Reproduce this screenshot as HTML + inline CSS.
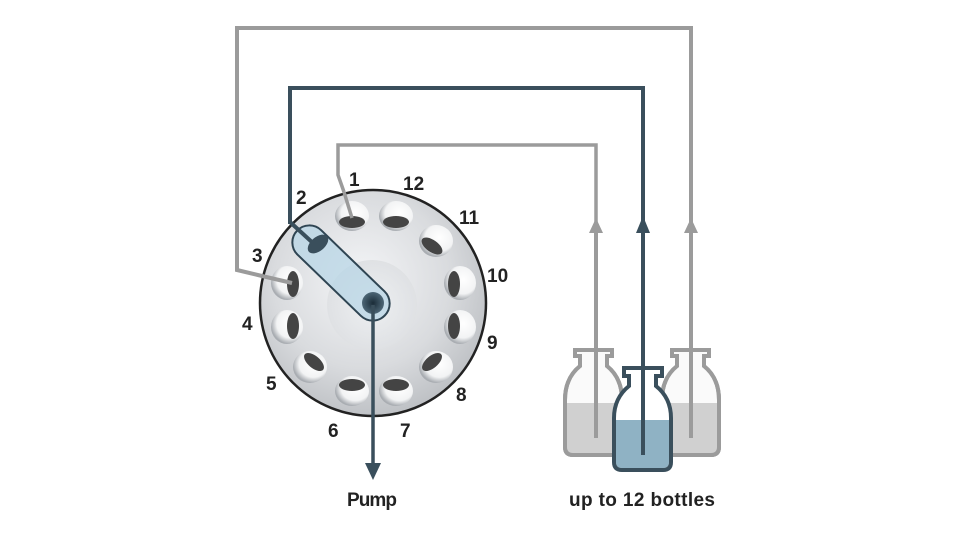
<!DOCTYPE html>
<html><head><meta charset="utf-8"><style>
html,body{margin:0;padding:0;background:#fff;width:960px;height:540px;overflow:hidden}
text{font-family:"Liberation Sans",sans-serif;font-weight:bold;fill:#222}
</style></head><body>
<svg width="960" height="540" viewBox="0 0 960 540" xmlns="http://www.w3.org/2000/svg">
<defs>
<radialGradient id="disk" cx="0.45" cy="0.4" r="0.65">
<stop offset="0" stop-color="#f4f5f7"/><stop offset="0.6" stop-color="#d9dbde"/><stop offset="1" stop-color="#b9bcc0"/>
</radialGradient>
<radialGradient id="hole" cx="0.6" cy="0.4" r="0.6">
<stop offset="0" stop-color="#ffffff"/><stop offset="0.7" stop-color="#f2f3f4"/><stop offset="1" stop-color="#a9adb2"/>
</radialGradient>
<radialGradient id="ctr" cx="0.5" cy="0.5" r="0.5">
<stop offset="0" stop-color="#eef0f2"/><stop offset="1" stop-color="#dfe1e4"/>
</radialGradient>
<radialGradient id="dot" cx="0.5" cy="0.5" r="0.5">
<stop offset="0" stop-color="#1a2c38"/><stop offset="1" stop-color="#4d6676"/>
</radialGradient>
</defs>
<g fill="none">
<path d="M691,232 V28 H237 V270 L262,276" stroke="#9b9b9b" stroke-width="4"/>
<path d="M596,232 V145 H338 V175 L344,192" stroke="#9b9b9b" stroke-width="3.5"/>
</g>
<!-- bottles gray -->
<g stroke="#9b9b9b" stroke-width="4" fill="#fafafa">
<path d="M575,350 H612 V356 H607 V366 Q622,378 622,400 V447 Q622,455 614,455 H573 Q565,455 565,447 V400 Q565,378 580,366 V356 H575 Z"/>
<path d="M672,350 H709 V356 H704 V366 Q719,378 719,400 V447 Q719,455 711,455 H670 Q662,455 662,447 V400 Q662,378 677,366 V356 H672 Z"/>
</g>
<rect x="567" y="403" width="53" height="50" fill="#d0d0d0"/>
<rect x="664" y="403" width="53" height="50" fill="#d0d0d0"/>
<g stroke="#9b9b9b" stroke-width="4" fill="none">
<path d="M575,350 H612 V356 H607 V366 Q622,378 622,400 V447 Q622,455 614,455 H573 Q565,455 565,447 V400 Q565,378 580,366 V356 H575 Z"/>
<path d="M672,350 H709 V356 H704 V366 Q719,378 719,400 V447 Q719,455 711,455 H670 Q662,455 662,447 V400 Q662,378 677,366 V356 H672 Z"/>
<line x1="596" y1="230" x2="596" y2="438"/>
<line x1="691" y1="230" x2="691" y2="438"/>
</g>
<path d="M624,368 H662 V376 H656 V386 Q671,398 671,418 V462 Q671,470 663,470 H622 Q614,470 614,462 V418 Q614,398 629,386 V376 H624 Z" fill="#ffffff"/>
<path d="M616,420 H669 V462 Q669,468 663,468 H622 Q616,468 616,462 Z" fill="#8fb2c4"/>
<path d="M624,368 H662 V376 H656 V386 Q671,398 671,418 V462 Q671,470 663,470 H622 Q614,470 614,462 V418 Q614,398 629,386 V376 H624 Z" fill="none" stroke="#3a4f5c" stroke-width="4"/>
<path d="M643,455 V88 H290 V224" fill="none" stroke="#3a4f5c" stroke-width="4"/>
<polygon points="596,218 589,233 603,233" fill="#9b9b9b"/>
<polygon points="691,218 684,233 698,233" fill="#9b9b9b"/>
<polygon points="643,216 636,233 650,233" fill="#3a4f5c"/>
<!-- disk -->
<circle cx="373" cy="303" r="113" fill="url(#disk)" stroke="#222" stroke-width="2.5"/>
<circle cx="372" cy="305" r="45" fill="url(#ctr)"/>
<g>
<g transform="translate(352,216)"><ellipse rx="17" ry="15" fill="url(#hole)"/><ellipse cx="0" cy="6" rx="13" ry="6" fill="#444"/></g>
<g transform="translate(396,216)"><ellipse rx="17" ry="15" fill="url(#hole)"/><ellipse cx="0" cy="6" rx="13" ry="6" fill="#444"/></g>
<g transform="translate(436,241)"><ellipse rx="17" ry="16" fill="url(#hole)"/><ellipse cx="-4" cy="5" rx="12" ry="6" transform="rotate(35 -4 5)" fill="#444"/></g>
<g transform="translate(460,283)"><ellipse rx="16" ry="17" fill="url(#hole)"/><ellipse cx="-6" cy="1" rx="6" ry="13" fill="#444"/></g>
<g transform="translate(460,327)"><ellipse rx="16" ry="17" fill="url(#hole)"/><ellipse cx="-6" cy="-1" rx="6" ry="13" fill="#444"/></g>
<g transform="translate(436,367)"><ellipse rx="17" ry="16" fill="url(#hole)"/><ellipse cx="-4" cy="-5" rx="12" ry="6" transform="rotate(-40 -4 -5)" fill="#444"/></g>
<g transform="translate(396,391)"><ellipse rx="17" ry="15" fill="url(#hole)"/><ellipse cx="0" cy="-6" rx="13" ry="6" fill="#444"/></g>
<g transform="translate(352,391)"><ellipse rx="17" ry="15" fill="url(#hole)"/><ellipse cx="0" cy="-6" rx="13" ry="6" fill="#444"/></g>
<g transform="translate(310,367)"><ellipse rx="17" ry="16" fill="url(#hole)"/><ellipse cx="4" cy="-5" rx="12" ry="6" transform="rotate(40 4 -5)" fill="#444"/></g>
<g transform="translate(287,327)"><ellipse rx="16" ry="17" fill="url(#hole)"/><ellipse cx="6" cy="-1" rx="6" ry="13" fill="#444"/></g>
<g transform="translate(287,283)"><ellipse rx="16" ry="17" fill="url(#hole)"/><ellipse cx="6" cy="1" rx="6" ry="13" fill="#444"/></g>
</g>
<!-- tube ends over disk -->
<path d="M262,276 L292,283" stroke="#9b9b9b" stroke-width="4" fill="none"/>
<path d="M344,192 L352,218" stroke="#9b9b9b" stroke-width="3.5" fill="none"/>
<!-- slot -->
<rect x="280" y="256" width="122" height="34" rx="17" transform="rotate(44 341 273)" fill="#b8d6e6" fill-opacity="0.75" stroke="#2f4553" stroke-width="2"/>
<path d="M290,222 L314,244" stroke="#3a4f5c" stroke-width="4" fill="none"/>
<ellipse cx="318" cy="244" rx="12" ry="7" transform="rotate(-40 318 244)" fill="#3a4f5c"/>
<circle cx="373" cy="303" r="11" fill="url(#dot)"/>
<line x1="373" y1="305" x2="373" y2="466" stroke="#3a4f5c" stroke-width="3.5"/>
<polygon points="373,480 365,463 381,463" fill="#3a4f5c"/>
<g font-size="19">
<text x="349" y="186">1</text>
<text x="403" y="190">12</text>
<text x="459" y="224">11</text>
<text x="487" y="282">10</text>
<text x="487" y="349">9</text>
<text x="456" y="401">8</text>
<text x="400" y="437">7</text>
<text x="328" y="437">6</text>
<text x="266" y="390">5</text>
<text x="242" y="330">4</text>
<text x="252" y="262">3</text>
<text x="296" y="204">2</text>
<text x="372" y="506" text-anchor="middle" textLength="50">Pump</text>
<text x="642" y="506" text-anchor="middle" textLength="146">up to 12 bottles</text>
</g>
</svg>
</body></html>
